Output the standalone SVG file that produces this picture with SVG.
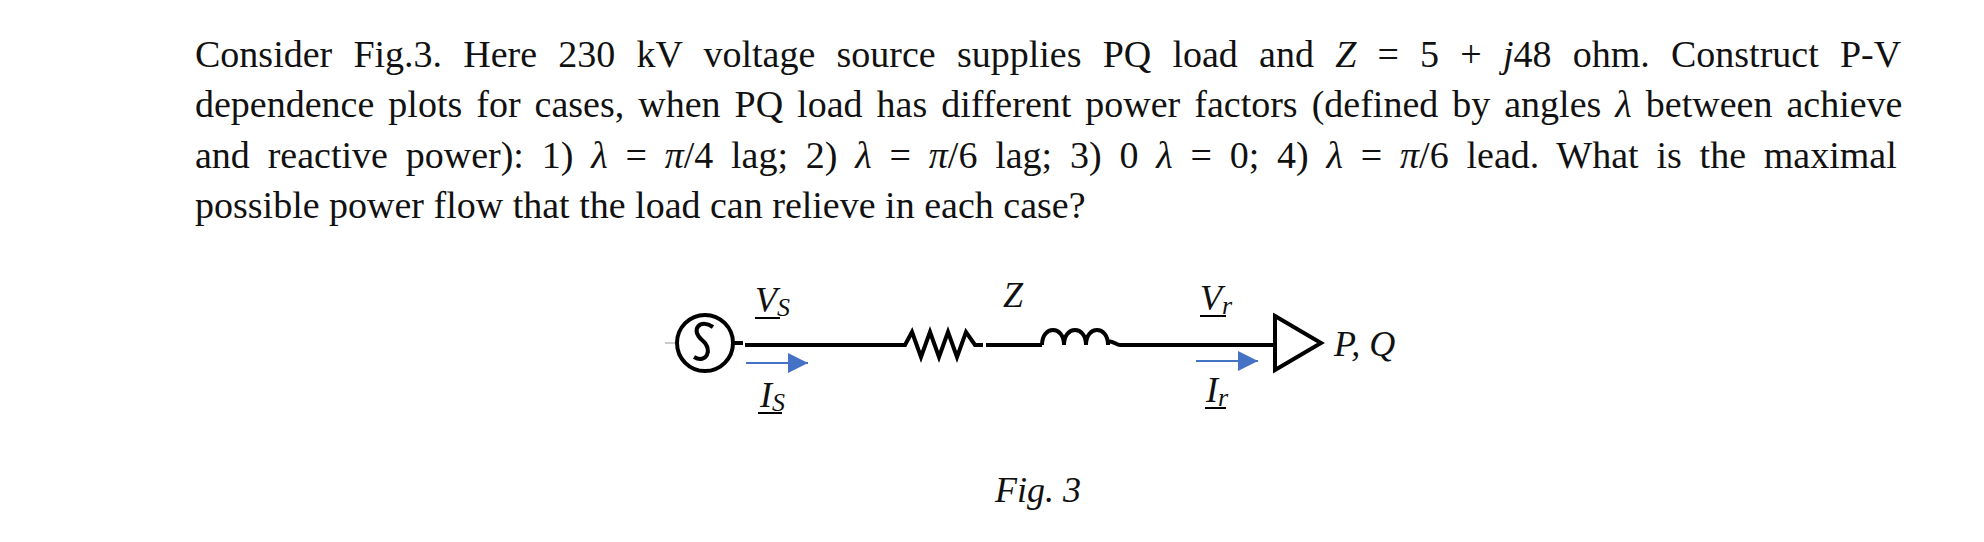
<svg xmlns="http://www.w3.org/2000/svg" width="1984" height="542" viewBox="0 0 1984 542">
<style>
.t{font-family:"Liberation Serif","Times New Roman",serif;font-size:38px;fill:#111}
.i{font-style:italic}
.lbl{font-family:"Liberation Serif",serif;font-style:italic;font-size:36px;fill:#111}
.w{stroke:#000;stroke-width:4;fill:none}
.b{stroke:#4472c4;stroke-width:2}
</style>
<defs><marker id="ah" viewBox="0 0 10 10" refX="10" refY="5" markerWidth="20" markerHeight="20" markerUnits="userSpaceOnUse"><path d="M0,0L10,5L0,10z" fill="#4472c4"/></marker></defs>
<rect width="1984" height="542" fill="#fff"/>
<g id="text">
<text class="t" x="195" y="67" word-spacing="11.7">Consider Fig.3. Here 230 kV voltage source supplies PQ load and <tspan class="i">Z</tspan> = 5 + <tspan class="i">j</tspan>48 ohm. Construct P-V</text>
<text class="t" x="195" y="117" word-spacing="4.5">dependence plots for cases, when PQ load has different power factors (defined by angles <tspan class="i">λ</tspan> between achieve</text>
<text class="t" x="195" y="168" word-spacing="8.3">and reactive power): 1) <tspan class="i">λ</tspan> = <tspan class="i">π</tspan>/4 lag; 2)  <tspan class="i">λ</tspan> = <tspan class="i">π</tspan>/6 lag; 3) 0 <tspan class="i">λ</tspan> = 0; 4) <tspan class="i">λ</tspan> = <tspan class="i">π</tspan>/6 lead. What is the maximal</text>
<text class="t" x="195" y="218">possible power flow that the load can relieve in each case?</text>
</g>
<g id="source">
<line x1="665" y1="343" x2="675" y2="343" stroke="#999" stroke-width="1"/>
<circle cx="705" cy="343" r="28" class="w"/>
<path d="M713,327 C700,318 690,330 702,340 C714,350 706,364 694,357" class="w" stroke-width="3"/>
<line x1="733" y1="343" x2="743" y2="343" class="w"/>
</g>
<g id="connectors">
<line x1="745" y1="345" x2="892" y2="345" class="w"/>
<polyline points="892,345 905,345 912,332 921,357 930,332 939,357 948,332 957,357 966,332 975,345 983,345" class="w" stroke-width="3.5"/>
<line x1="986" y1="345" x2="1042" y2="345" class="w"/>
<path d="M1042,345 c0,-20 22,-20 22,0 c0,-20 22,-20 22,0 c0,-20 22,-20 22,0 c0,-8 8,0 12,0" class="w" stroke-width="3.5"/>
<line x1="1120" y1="345" x2="1275" y2="345" class="w"/>
<line x1="746" y1="363" x2="808" y2="363" class="b" marker-end="url(#ah)"/>
<line x1="1196" y1="361" x2="1258" y2="361" class="b" marker-end="url(#ah)"/>
</g>
<g id="load">
<polygon points="1275,316 1321,343 1275,370" class="w" stroke-width="5"/>
<text class="lbl" x="1334" y="356">P, Q</text>
</g>
<g id="labels">
<text class="lbl" x="755" y="312">V<tspan font-size="26" dy="4">S</tspan></text>
<line x1="755" y1="318" x2="780" y2="318" stroke="#000" stroke-width="2"/>
<text class="lbl" x="1003" y="307">Z</text>
<text class="lbl" x="1200" y="310">V<tspan font-size="26" dy="4">r</tspan></text>
<line x1="1200" y1="316" x2="1226" y2="316" stroke="#000" stroke-width="2"/>
<text class="lbl" x="760" y="407">I<tspan font-size="26" dy="4">S</tspan></text>
<line x1="758" y1="413" x2="782" y2="413" stroke="#000" stroke-width="2"/>
<text class="lbl" x="1206" y="402">I<tspan font-size="26" dy="4">r</tspan></text>
<line x1="1205" y1="408" x2="1226" y2="408" stroke="#000" stroke-width="2"/>
<text class="lbl" x="995" y="502" font-size="40">Fig. 3</text>
</g>
</svg>
